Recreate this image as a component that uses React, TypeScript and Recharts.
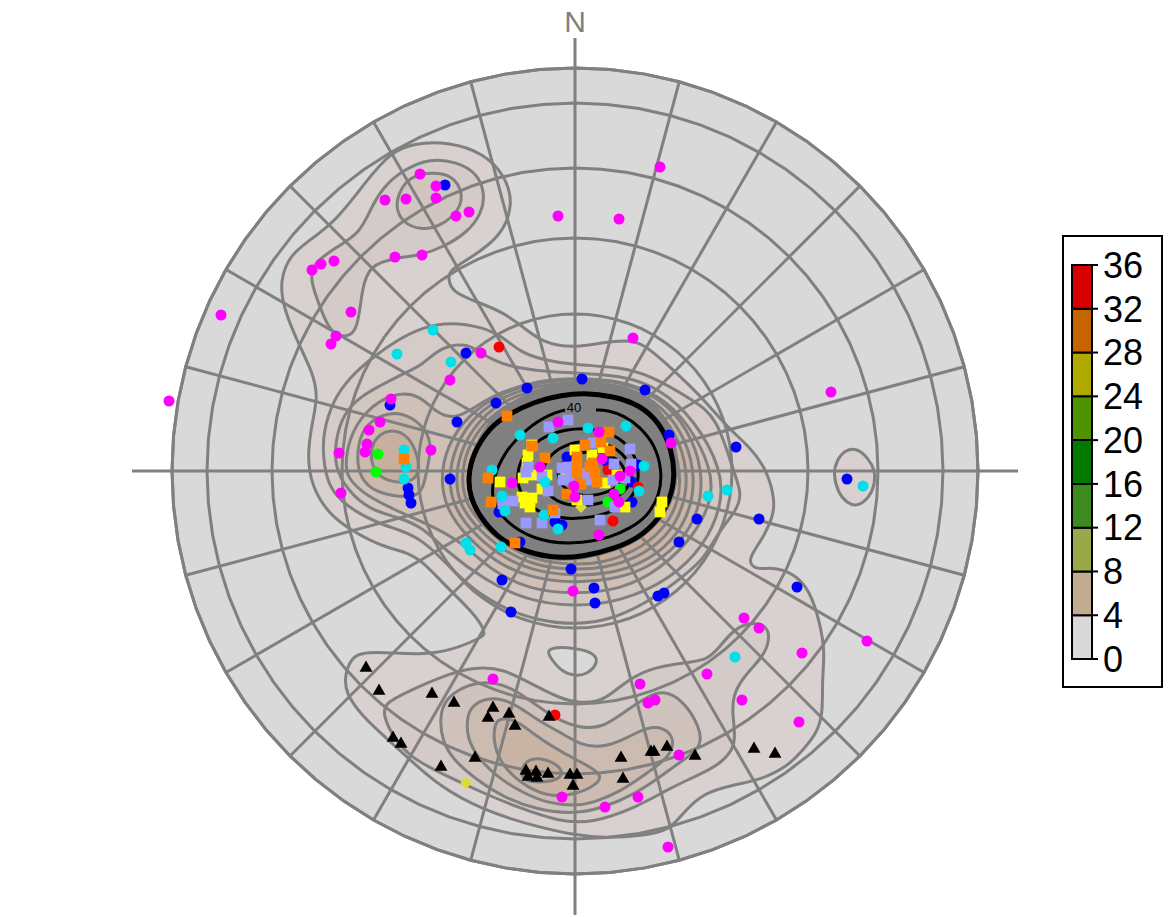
import { Bar, BarChart, ReferenceDot, Scatter, ScatterChart, Symbols, XAxis, YAxis } from 'recharts'

type Pt = [number, number]

const FONT = '"Liberation Sans", Arial, sans-serif'
const GRID = '#808080'
const LINE = 3

// net geometry, read in picture units
const netCentre: Pt = [575, 471]
const ringRadii = [80, 157, 233, 303, 368, 403]
const spokeBearings = [15, 30, 45, 60, 75, 105, 120, 135, 150, 165, 195, 210, 225, 240, 255, 285, 300, 315, 330, 345]
const netRadius = 403
const northLine: Pt[] = [[575, 38], [575, 915]]
const eastLine: Pt[] = [[132, 471], [1018, 471]]

// density contours, outermost first
const mainOutline: Pt[] = [[448, 278], [452, 292], [477, 302], [503, 312], [523, 327], [543, 343], [573, 348], [600, 343], [627, 340], [643, 343], [670, 367], [687, 383], [707, 403], [727, 427], [750, 447], [767, 470], [775, 500], [773, 517], [762, 540], [747, 560], [755, 570], [773, 567], [793, 573], [810, 590], [820, 623], [825, 652], [822, 680], [823, 713], [817, 733], [803, 750], [787, 767], [760, 780], [733, 785], [703, 793], [683, 813], [670, 830], [643, 836], [603, 838], [573, 835], [530, 825], [483, 810], [440, 787], [407, 757], [385, 737], [363, 717], [345, 693], [345, 673], [352, 658], [360, 653], [383, 652], [420, 655], [453, 650], [480, 638], [485, 635], [483, 627], [473, 613], [457, 597], [440, 580], [423, 562], [407, 552], [383, 547], [350, 530], [328, 513], [312, 487], [307, 457], [312, 423], [318, 397], [313, 373], [298, 343], [283, 307], [280, 280], [290, 255], [310, 240], [337, 220], [367, 180], [390, 153], [413, 143], [450, 142], [483, 153], [505, 175], [514, 205], [500, 238], [470, 258], [450, 270]]
const eastIsland: Pt[] = [[833, 473], [837, 460], [845, 450], [857, 448], [868, 458], [875, 470], [875, 483], [870, 497], [857, 507], [847, 503], [838, 493]]
const southHole: Pt[] = [[546, 650], [557, 647], [573, 648], [593, 652], [599, 662], [587, 675], [573, 676], [560, 670], [552, 660]]
const northLobeOuter: Pt[] = [[310, 280], [320, 307], [330, 333], [347, 338], [358, 330], [362, 287], [370, 265], [395, 258], [422, 255], [443, 247], [467, 233], [482, 213], [485, 193], [477, 173], [457, 162], [430, 158], [403, 170], [383, 187], [370, 210], [360, 233], [337, 247], [313, 263]]
const northLobeInner: Pt[] = [[395, 207], [400, 190], [410, 177], [430, 172], [453, 175], [463, 193], [460, 210], [440, 227], [420, 230], [403, 223]]
const level2: Pt[] = [[323, 457], [323, 433], [333, 400], [350, 377], [373, 357], [397, 340], [423, 327], [450, 322], [483, 327], [503, 337], [520, 352], [543, 360], [575, 365], [620, 367], [650, 375], [693, 400], [717, 417], [733, 470], [742, 493], [737, 510], [720, 530], [703, 560], [687, 573], [657, 597], [613, 620], [573, 625], [537, 620], [507, 610], [473, 590], [450, 567], [423, 540], [400, 530], [377, 523], [347, 507], [328, 487]]
const level3: Pt[] = [[335, 467], [335, 443], [343, 413], [363, 395], [378, 387], [400, 375], [423, 365], [440, 347], [467, 343], [480, 353], [507, 367], [550, 372], [575, 373], [620, 375], [660, 388], [695, 420], [722, 470], [722, 505], [705, 545], [670, 580], [620, 602], [573, 607], [525, 600], [485, 580], [447, 552], [423, 527], [397, 517], [370, 510], [347, 490]]
const level4: Pt[] = [[345, 470], [348, 440], [365, 410], [395, 392], [420, 395], [435, 412], [455, 420], [478, 405], [500, 392], [540, 380], [575, 378], [620, 380], [660, 395], [690, 425], [712, 470], [712, 500], [695, 535], [660, 570], [620, 590], [575, 594], [530, 590], [490, 570], [462, 542], [430, 525], [395, 510], [365, 495], [350, 480]]
const level5: Pt[] = [[440, 480], [447, 445], [468, 415], [500, 393], [540, 382], [580, 379], [625, 382], [660, 398], [688, 428], [703, 470], [700, 510], [680, 545], [645, 570], [610, 580], [573, 583], [530, 578], [495, 562], [465, 535], [447, 510]]
const level6: Pt[] = [[448, 480], [455, 445], [475, 415], [505, 395], [540, 385], [580, 382], [622, 385], [655, 400], [682, 430], [695, 470], [692, 508], [673, 542], [640, 565], [607, 574], [573, 576], [532, 571], [498, 555], [470, 530], [454, 507]]
const level7: Pt[] = [[455, 480], [461, 448], [480, 418], [508, 398], [542, 388], [580, 385], [620, 388], [652, 403], [676, 432], [688, 470], [685, 505], [667, 538], [637, 558], [605, 568], [573, 570], [535, 566], [502, 550], [475, 526], [460, 505]]
const level8: Pt[] = [[461, 480], [466, 450], [484, 422], [510, 402], [543, 391], [580, 388], [617, 391], [648, 406], [670, 435], [681, 470], [679, 503], [662, 532], [634, 552], [603, 563], [573, 565], [537, 561], [505, 546], [479, 522], [466, 503]]
const westPeakOuter: Pt[] = [[357, 450], [363, 427], [383, 413], [407, 413], [427, 430], [432, 447], [425, 480], [420, 497], [395, 497], [370, 490], [358, 473]]
const westPeakInner: Pt[] = [[370, 453], [375, 437], [392, 428], [410, 437], [418, 457], [420, 473], [410, 483], [387, 482], [373, 470]]
const south2: Pt[] = [[385, 703], [407, 692], [440, 677], [473, 667], [503, 668], [537, 687], [560, 698], [577, 703], [603, 702], [623, 683], [650, 668], [683, 663], [707, 660], [717, 650], [733, 630], [750, 622], [767, 625], [770, 640], [763, 657], [743, 677], [732, 697], [733, 720], [737, 747], [717, 767], [687, 780], [667, 790], [637, 807], [593, 823], [560, 822], [517, 807], [483, 793], [440, 773], [410, 757], [393, 737], [383, 715]]
const south3: Pt[] = [[440, 720], [443, 703], [457, 690], [477, 682], [503, 683], [527, 698], [557, 720], [580, 728], [603, 728], [627, 710], [647, 697], [663, 690], [683, 700], [700, 727], [702, 747], [683, 760], [660, 777], [637, 793], [603, 808], [575, 814], [537, 810], [503, 797], [477, 780], [453, 760], [442, 740]]
const south4: Pt[] = [[467, 720], [470, 707], [487, 697], [510, 700], [537, 720], [560, 732], [580, 745], [603, 748], [627, 738], [647, 727], [663, 727], [675, 738], [670, 757], [647, 773], [620, 792], [593, 803], [575, 806], [547, 803], [523, 793], [497, 777], [477, 757], [467, 737]]
const south5: Pt[] = [[495, 723], [500, 718], [517, 720], [537, 737], [563, 753], [593, 768], [603, 777], [593, 787], [573, 795], [547, 797], [520, 783], [500, 763], [493, 740]]
const south6: Pt[] = [[523, 762], [537, 757], [553, 762], [563, 770], [560, 780], [537, 783], [520, 780]]

// the black inner contours, the 40 line leaves a gap for its label
const grayCore: Pt[] = [[466, 477], [471, 452], [487, 423], [505, 405], [535, 390], [565, 382], [590, 381], [620, 385], [650, 397], [668, 420], [678, 450], [678, 477], [673, 502], [660, 522], [642, 539], [617, 551], [583, 560], [550, 561], [520, 553], [495, 540], [478, 519], [468, 497]]
const core1: Pt[] = [[468, 477], [473, 453], [490, 427], [507, 415], [533, 402], [563, 395], [583, 393], [613, 396], [640, 405], [660, 423], [672, 450], [675, 477], [670, 500], [658, 520], [640, 537], [617, 548], [583, 557], [550, 558], [520, 550], [497, 537], [480, 517], [470, 497]]
const core2Open: Pt[] = [[596, 410], [607, 410], [625, 416], [640, 427], [655, 445], [662, 470], [660, 495], [647, 517], [630, 528], [613, 537], [573, 545], [533, 540], [503, 520], [492, 500], [492, 483], [503, 453], [527, 428], [550, 414], [565, 410]]
const core3: Pt[] = [[515, 480], [522, 455], [540, 438], [565, 429], [595, 428], [620, 437], [636, 455], [640, 478], [632, 500], [610, 514], [575, 520], [545, 516], [525, 503]]
const core4: Pt[] = [[540, 478], [546, 458], [565, 444], [590, 440], [615, 446], [630, 462], [633, 480], [622, 496], [595, 506], [565, 506], [547, 495]]
const core5: Pt[] = [[555, 475], [562, 460], [582, 451], [605, 452], [622, 462], [627, 476], [617, 489], [592, 497], [568, 494]]

const magentaPoints: Pt[] = [[660, 167], [558, 216], [619, 219], [420, 174], [436, 186], [436, 198], [406, 199], [385, 200], [456, 216], [469, 212], [395, 257], [422, 255], [334, 261], [321, 264], [312, 270], [351, 312], [221, 315], [336, 336], [331, 344], [169, 401], [481, 353], [450, 380], [633, 338], [831, 392], [391, 399], [380, 422], [369, 430], [367, 444], [365, 452], [339, 453], [341, 493], [431, 450], [671, 443], [558, 422], [599, 432], [602, 459], [540, 467], [512, 483], [630, 471], [620, 476], [574, 486], [575, 497], [614, 494], [619, 502], [599, 535], [573, 591], [744, 618], [759, 628], [867, 641], [802, 653], [707, 674], [640, 684], [493, 679], [655, 700], [648, 703], [742, 700], [799, 722], [679, 755], [638, 797], [605, 807], [562, 797], [668, 847]]
const bluePoints: Pt[] = [[445, 185], [466, 353], [527, 388], [582, 379], [645, 390], [390, 405], [457, 422], [496, 403], [736, 447], [847, 479], [759, 519], [697, 519], [679, 542], [797, 587], [664, 593], [658, 596], [594, 588], [595, 603], [571, 569], [502, 580], [511, 612], [411, 503], [409, 495], [408, 488], [450, 479], [669, 435], [520, 542], [567, 457], [607, 462], [638, 465], [632, 482], [632, 502], [555, 522], [562, 525], [499, 512]]
const cyanPoints: Pt[] = [[433, 330], [397, 354], [451, 362], [863, 486], [708, 496], [727, 490], [735, 657], [404, 450], [406, 467], [404, 479], [520, 435], [553, 438], [588, 428], [626, 426], [644, 466], [639, 491], [492, 470], [502, 496], [505, 511], [545, 482], [544, 515], [558, 529], [501, 547], [466, 543], [470, 550]]
const redPoints: Pt[] = [[499, 347], [555, 715], [613, 521], [608, 470], [638, 487]]
const greenPoints: Pt[] = [[378, 454], [376, 472], [620, 489], [608, 502]]
const trianglePoints: Pt[] = [[366, 668], [379, 691], [432, 694], [454, 703], [493, 708], [488, 718], [509, 714], [515, 726], [549, 717], [393, 738], [401, 744], [441, 767], [475, 758], [526, 771], [528, 777], [536, 772], [537, 778], [548, 774], [570, 775], [577, 775], [573, 786], [621, 758], [623, 779], [651, 752], [654, 752], [667, 747], [695, 756], [754, 749], [775, 754]]
const yellowPoints: Pt[] = [[532, 445], [528, 455], [527, 463], [523, 478], [533, 475], [547, 475], [500, 482], [542, 489], [522, 497], [532, 498], [525, 503], [530, 507], [575, 450], [592, 455], [603, 448], [605, 483], [617, 475], [577, 500], [625, 507], [662, 502], [660, 512]]
const diamondPoints: Pt[] = [[564, 477], [581, 507], [466, 783]]
const lavenderPoints: Pt[] = [[549, 427], [568, 420], [630, 449], [631, 464], [528, 467], [526, 472], [542, 476], [548, 491], [513, 501], [503, 504], [526, 523], [542, 523], [555, 513], [588, 500], [600, 520], [614, 464], [613, 480], [615, 507], [562, 468], [567, 467], [563, 480], [587, 473], [588, 480], [593, 443], [570, 477], [625, 478]]
const orangePoints: Pt[] = [[507, 416], [532, 446], [545, 458], [488, 478], [491, 502], [515, 543], [553, 510], [567, 494], [581, 484], [577, 457], [577, 467], [577, 473], [585, 445], [601, 442], [610, 451], [609, 432], [590, 467], [593, 463], [595, 473], [597, 482], [404, 459]]

// colour scale
const scaleTicks = [0, 4, 8, 12, 16, 20, 24, 28, 32, 36]
const scaleColors = ['#d9d9d9', '#c2ab8f', '#9aa84a', '#3d8a1e', '#007a00', '#4f9400', '#b0aa00', '#c56500', '#d80000']
const scaleRow = Object.fromEntries(scaleColors.map((_, i) => [`band${i}`, scaleTicks[i + 1] - scaleTicks[i]]))

const rows = (pts: Pt[]) => pts.map(([x, y]) => ({ x, y }))
const hidden = () => <g />
const ringSteps = Array.from({ length: 72 }, (_, i) => (i * 5 * Math.PI) / 180)
const ring = (r: number) => ringSteps.map((a) => ({ x: netCentre[0] + r * Math.sin(a), y: netCentre[1] - r * Math.cos(a) }))
const spoke = (deg: number) => {
  const a = (deg * Math.PI) / 180
  return [
    { x: netCentre[0], y: netCentre[1] },
    { x: netCentre[0] + netRadius * Math.sin(a), y: netCentre[1] - netRadius * Math.cos(a) },
  ]
}

const contourFills: [Pt[], string][] = [
  [mainOutline, '#d8d1cf'],
  [eastIsland, '#d8d1cf'],
  [southHole, '#d9d9d9'],
  [northLobeOuter, '#d4cbc8'],
  [northLobeInner, '#d0c5bf'],
  [south2, '#d4cbc8'],
  [south3, '#d0c3bd'],
  [south4, '#ccbbb1'],
  [south5, '#c9b4a6'],
  [south6, '#c6ae9d'],
  [level2, '#d5cbc8'],
  [level3, '#d2c6c0'],
  [level4, '#cfc0b8'],
  [westPeakOuter, '#ccb9ad'],
  [westPeakInner, '#c8b0a0'],
  [level5, '#cbb8ac'],
  [level6, '#c9b4a6'],
  [level7, '#c7b0a0'],
  [level8, '#c5ac9a'],
]

const markerSeries: [string, Pt[], any, number, string][] = [
  ['blue', bluePoints, 'circle', 95, '#0000ff'],
  ['red', redPoints, 'circle', 95, '#ff0000'],
  ['green', greenPoints, 'circle', 95, '#00ff00'],
  ['yellow', yellowPoints, 'square', 115, '#ffff00'],
  ['lavender', lavenderPoints, 'square', 115, '#9999ff'],
  ['cyan', cyanPoints, 'circle', 95, '#00e0e8'],
  ['orange', orangePoints, 'square', 115, '#ff7f00'],
  ['magenta', magentaPoints, 'circle', 95, '#ff00ff'],
  ['triangle', trianglePoints, 'triangle', 72, '#000000'],
]

const App = () => {
  return (
    <div style={{ position: 'absolute', left: 0, top: 0, width: 1172, height: 917, background: '#fff', overflow: 'hidden' }}>
      <ScatterChart width={1172} height={917} margin={{ top: 0, right: 0, bottom: 0, left: 0 }}>
        <XAxis type="number" dataKey="x" domain={[0, 1172]} hide />
        <YAxis type="number" dataKey="y" domain={[0, 917]} reversed hide />

        <Scatter
          data={ring(netRadius)}
          isAnimationActive={false}
          shape={hidden}
          lineJointType="linearClosed"
          line={{ fill: '#d9d9d9', stroke: GRID, strokeWidth: LINE }}
        />

        {contourFills.map(([pts, fill], i) => (
          <Scatter
            key={`contour${i}`}
            data={rows(pts)}
            isAnimationActive={false}
            shape={hidden}
            lineJointType="basisClosed"
            line={{ fill, stroke: GRID, strokeWidth: LINE }}
          />
        ))}

        {ringRadii.map((r) => (
          <Scatter
            key={`ring${r}`}
            data={ring(r)}
            isAnimationActive={false}
            shape={hidden}
            lineJointType="linearClosed"
            line={{ fill: 'none', stroke: GRID, strokeWidth: LINE }}
          />
        ))}
        {spokeBearings.map((deg) => (
          <Scatter
            key={`spoke${deg}`}
            data={spoke(deg)}
            isAnimationActive={false}
            shape={hidden}
            line={{ stroke: GRID, strokeWidth: LINE }}
          />
        ))}
        {[northLine, eastLine].map((pts, i) => (
          <Scatter
            key={`axis${i}`}
            data={rows(pts)}
            isAnimationActive={false}
            shape={hidden}
            line={{ stroke: GRID, strokeWidth: LINE }}
          />
        ))}

        <Scatter
          data={rows(grayCore)}
          isAnimationActive={false}
          shape={hidden}
          lineJointType="basisClosed"
          line={{ fill: '#808080', stroke: '#808080', strokeWidth: 1 }}
        />
        <Scatter
          data={rows(core1)}
          isAnimationActive={false}
          shape={hidden}
          lineJointType="basisClosed"
          line={{ fill: 'none', stroke: '#000', strokeWidth: 5 }}
        />
        <Scatter
          data={rows(core2Open)}
          isAnimationActive={false}
          shape={hidden}
          lineJointType="basis"
          line={{ fill: 'none', stroke: '#000', strokeWidth: LINE }}
        />
        {[core3, core4, core5].map((pts, i) => (
          <Scatter
            key={`core${i}`}
            data={rows(pts)}
            isAnimationActive={false}
            shape={hidden}
            lineJointType="basisClosed"
            line={{ fill: 'none', stroke: '#000', strokeWidth: LINE }}
          />
        ))}

        <Scatter
          name="diamond"
          data={rows(diamondPoints)}
          isAnimationActive={false}
          fill="#dcdc30"
          shape={(p: any) => (
            <g transform={`rotate(45 ${p.cx} ${p.cy})`}>
              <Symbols cx={p.cx} cy={p.cy} type="square" size={70} fill="#dcdc30" />
            </g>
          )}
        />
        {markerSeries.map(([name, pts, type, size, color]) => (
          <Scatter
            key={name}
            name={name}
            data={rows(pts)}
            isAnimationActive={false}
            fill={color}
            shape={(p: any) => <Symbols cx={p.cx} cy={p.cy} type={type} size={size} fill={color} />}
          />
        ))}

        <ReferenceDot
          x={575}
          y={21}
          r={0}
          stroke="none"
          fill="none"
          label={{ value: 'N', position: 'center', fill: GRID, fontSize: 30, fontFamily: FONT }}
        />
        <ReferenceDot
          x={574}
          y={407}
          r={0}
          stroke="none"
          fill="none"
          label={{ value: '40', position: 'center', fill: '#000', fontSize: 13, fontFamily: FONT }}
        />
      </ScatterChart>

      <div
        style={{
          position: 'absolute',
          left: 1062,
          top: 235,
          width: 97,
          height: 449,
          border: '2px solid #000',
          background: '#fff',
        }}
      >
        <BarChart
          width={97}
          height={449}
          data={[scaleRow]}
          margin={{ top: 28, right: 0, bottom: 27, left: 8 }}
          barCategoryGap={0}
        >
          <XAxis type="category" hide />
          <YAxis
            orientation="right"
            type="number"
            domain={[0, 36]}
            ticks={scaleTicks}
            interval={0}
            width={69}
            axisLine={false}
            tickSize={6}
            tickMargin={5}
            tickLine={{ stroke: '#000', strokeWidth: 2 }}
            tick={{ fill: '#000', fontSize: 36, fontFamily: FONT }}
          />
          {scaleColors.map((color, i) => (
            <Bar
              key={color}
              dataKey={`band${i}`}
              stackId="scale"
              fill={color}
              stroke="#000"
              strokeWidth={2}
              isAnimationActive={false}
            />
          ))}
        </BarChart>
      </div>
    </div>
  )
}

export default App
